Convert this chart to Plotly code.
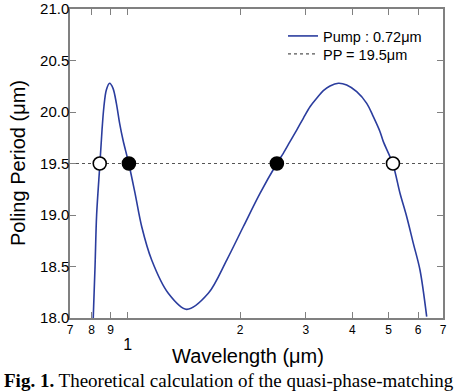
import plotly.graph_objects as go

# Data
wavelength = [0.808, 0.817, 0.825, 0.842, 0.853, 0.863, 0.876, 0.894, 0.913, 0.932,
              0.951, 0.971, 1.006, 1.046, 1.090, 1.159, 1.284, 1.438, 1.644, 1.842,
              2.040, 2.262, 2.51, 2.612, 2.722, 2.837, 2.955, 3.080, 3.210, 3.344,
              3.485, 3.669, 3.863, 4.109, 4.371, 4.553, 4.745, 4.843, 5.132, 5.368,
              5.595, 5.828, 6.073, 6.330]
poling_period = [18.0, 18.5, 19.0, 19.5, 19.825, 20.051, 20.214, 20.279, 20.230, 20.084,
                 19.890, 19.728, 19.5, 19.21, 18.886, 18.563, 18.24, 18.084, 18.24, 18.563,
                 18.886, 19.21, 19.5, 19.599, 19.712, 19.825, 19.939, 20.051, 20.133, 20.207,
                 20.252, 20.279, 20.262, 20.197, 20.084, 19.955, 19.809, 19.712, 19.5, 19.211,
                 18.983, 18.725, 18.466, 18.013]

pp_value = 19.5
pp_x = [0.7, 7.0]
open_pts_x = [0.841, 5.14]
filled_pts_x = [1.007, 2.51]

x_tickvals = [0.7, 0.8, 0.9, 1, 2, 3, 4, 5, 6, 7]
x_ticktext = ["7", "8", "9", "<br><span style='font-size:16px'>1</span>", "2", "3", "4", "5", "6", "7"]
y_tickvals = [18.0, 18.5, 19.0, 19.5, 20.0, 20.5, 21.0]
y_ticktext = ["18.0", "18.5", "19.0", "19.5", "20.0", "20.5", "21.0"]

L, R, T, B = 70, 31, 9, 74
W, H = 474, 392
pw, ph = W - L - R, H - T - B


def px_x(px):
    return (px - L) / pw


def px_y(py):
    return (T + ph - py) / ph


fig = go.Figure()
fig.add_trace(go.Scatter(x=wavelength, y=poling_period, mode="lines",
                         line=dict(color="#2b3d9e", width=1.6, shape="spline", smoothing=0.9),
                         name="Pump : 0.72μm", legend="legend"))
fig.add_trace(go.Scatter(x=pp_x, y=[pp_value, pp_value], mode="lines",
                         line=dict(color="#555555", width=1.2, dash="dot"),
                         name="PP = 19.5μm", legend="legend2"))
fig.add_trace(go.Scatter(x=open_pts_x, y=[pp_value] * len(open_pts_x), mode="markers",
                         marker=dict(size=13, color="white", line=dict(color="black", width=1.6)),
                         showlegend=False))
fig.add_trace(go.Scatter(x=filled_pts_x, y=[pp_value] * len(filled_pts_x), mode="markers",
                         marker=dict(size=13, color="black", line=dict(color="black", width=1.6)),
                         showlegend=False))

axis_common = dict(showline=True, linecolor="#808080", linewidth=1.5, mirror="ticks",
                   ticks="inside", tickcolor="#808080", ticklen=6, tickwidth=1.2,
                   showgrid=False, zeroline=False)

fig.update_xaxes(type="log", range=[-0.15490196, 0.84509804],
                 tickmode="array", tickvals=x_tickvals, ticktext=x_ticktext,
                 tickfont=dict(family="Liberation Sans", size=12, color="black"),
                 **axis_common)
fig.update_yaxes(range=[18.0, 21.0], tickmode="array", tickvals=y_tickvals, ticktext=y_ticktext,
                 tickfont=dict(family="Liberation Sans", size=15, color="black"),
                 ticklabelstandoff=-4,
                 **axis_common)

legend_common = dict(xanchor="left", yanchor="middle", bgcolor="rgba(0,0,0,0)", itemwidth=30,
                     font=dict(family="Liberation Sans", size=14.5, color="black"))

fig.update_layout(
    width=W, height=H, margin=dict(l=L, r=R, t=T, b=B, autoexpand=False),
    paper_bgcolor="white", plot_bgcolor="white",
    showlegend=True,
    legend=dict(x=px_x(283), y=px_y(36), **legend_common),
    legend2=dict(x=px_x(283), y=px_y(54), **legend_common),
    annotations=[
        dict(text="Wavelength (μm)", xref="paper", yref="paper",
             x=px_x(248), y=px_y(356), xanchor="center", yanchor="middle",
             showarrow=False, font=dict(family="Liberation Sans", size=20, color="black")),
        dict(text="Poling Period (μm)", xref="paper", yref="paper", textangle=-90,
             x=px_x(18), y=px_y(163), xanchor="center", yanchor="middle",
             showarrow=False, font=dict(family="Liberation Sans", size=20, color="black")),
        dict(text="<b>Fig. 1.</b> Theoretical calculation of the quasi-phase-matching",
             xref="paper", yref="paper", x=px_x(2), y=px_y(380),
             xanchor="left", yanchor="middle", showarrow=False,
             font=dict(family="Liberation Serif", size=19, color="black")),
    ],
)

fig.write_html("out.html", config={"displayModeBar": False},
               post_script="document.body.style.margin='0';")
